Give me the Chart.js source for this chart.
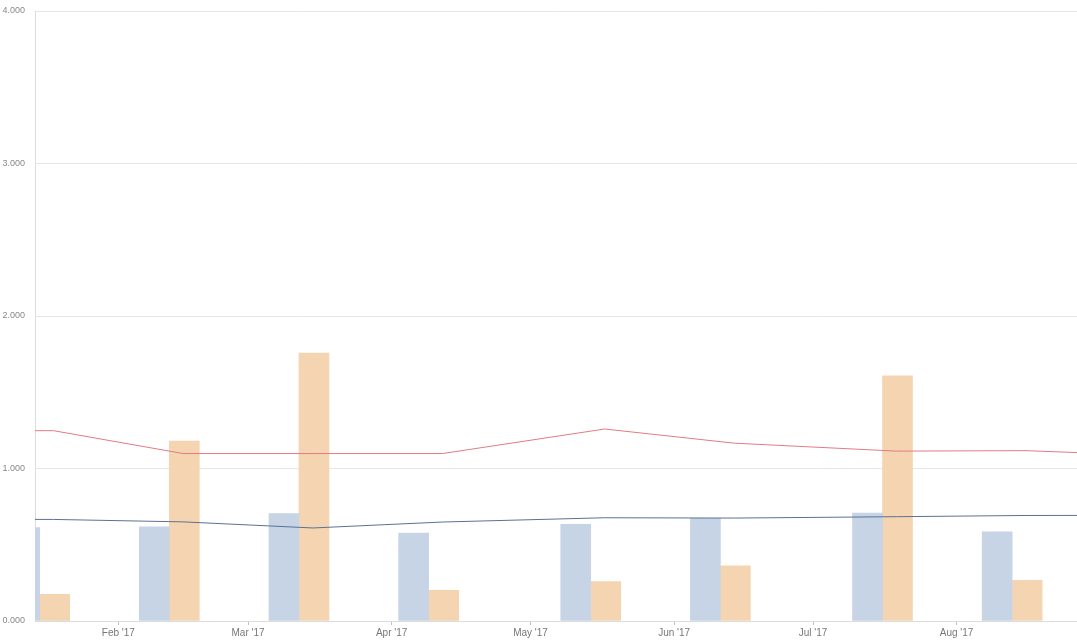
<!DOCTYPE html>
<html>
<head>
<meta charset="utf-8">
<script src="https://cdn.jsdelivr.net/npm/chart.js@4/dist/chart.umd.min.js"></script>
<style>
  html, body { margin: 0; padding: 0; background: #fff; }
  #wrap { width: 1077px; height: 644px; position: relative; }
</style>
</head>
<body>
<div id="wrap"><canvas id="combo"></canvas></div>
<script>
// weekly bars (Sundays) and the two trend lines (Wednesdays)
const barDates = ['2017-01-15', '2017-02-12', '2017-03-12', '2017-04-09',
                  '2017-05-14', '2017-06-11', '2017-07-16', '2017-08-13'];
const blueBars = [0.612, 0.618, 0.704, 0.577, 0.634, 0.673, 0.708, 0.584];
const orangeBars = [0.175, 1.180, 1.757, 0.201, 0.258, 0.361, 1.607, 0.267];

const lineDates = ['2016-12-21', '2017-01-18', '2017-02-15', '2017-03-15', '2017-04-12',
                   '2017-05-17', '2017-06-14', '2017-07-19', '2017-08-16', '2017-09-13'];
const redLine = [1.248, 1.248, 1.098, 1.098, 1.098, 1.259, 1.166, 1.114, 1.117, 1.085];
const navyLine = [0.667, 0.666, 0.650, 0.610, 0.649, 0.677, 0.675, 0.684, 0.692, 0.693];

const monthTicks = ['2017-02-01', '2017-03-01', '2017-04-01', '2017-05-01',
                    '2017-06-01', '2017-07-01', '2017-08-01'];
const monthLabels = ["Feb '17", "Mar '17", "Apr '17", "May '17", "Jun '17", "Jul '17", "Aug '17"];

const rangeStart = '2017-01-14';
const rangeEnd = '2017-08-27';

// days since 1 Jan 2017 (no date adapter available, so a linear axis is used)
function day(s) {
  const p = s.split('-').map(Number);
  return (Date.UTC(p[0], p[1] - 1, p[2]) - Date.UTC(2017, 0, 1)) / 86400000;
}
function pairs(dates, vals) {
  return dates.map((d, i) => ({ x: day(d), y: vals[i] }));
}

const tickDays = monthTicks.map(day);

new Chart(document.getElementById('combo'), {
  type: 'bar',
  data: {
    datasets: [
      { type: 'line', data: pairs(lineDates, redLine), borderColor: '#e27b85', borderWidth: 1,
        pointRadius: 0, tension: 0, order: 0 },
      { type: 'line', data: pairs(lineDates, navyLine), borderColor: '#5b7194', borderWidth: 1,
        pointRadius: 0, tension: 0, order: 0 },
      { data: pairs(barDates, blueBars), backgroundColor: '#c6d4e6', borderWidth: 0,
        barThickness: 30, order: 1 },
      { data: pairs(barDates, orangeBars), backgroundColor: '#f5d5b1', borderWidth: 0,
        barThickness: 30, order: 1 }
    ]
  },
  options: {
    responsive: true,
    maintainAspectRatio: false,
    animation: false,
    layout: { padding: { top: 11, right: 0, left: 0, bottom: 0 } },
    plugins: { legend: { display: false }, tooltip: { enabled: false } },
    scales: {
      x: {
        type: 'linear',
        offset: false,
        min: day(rangeStart),
        max: day(rangeEnd),
        afterBuildTicks: s => { s.ticks = tickDays.map(v => ({ value: v })); },
        afterFit: s => { s.height = 23; s.paddingLeft = 0; s.paddingRight = 0; },
        grid: { offset: false, drawOnChartArea: false, drawTicks: true, tickLength: 4, tickColor: '#b8c2cc' },
        border: { color: '#dcdcdc' },
        ticks: {
          autoSkip: false,
          maxRotation: 0,
          padding: 2,
          color: '#777',
          font: { family: 'Liberation Sans', size: 10 },
          callback: (v) => {
            const i = tickDays.indexOf(v);
            return i >= 0 ? monthLabels[i] : '';
          }
        }
      },
      y: {
        min: 0,
        max: 4,
        afterFit: s => { s.width = 35; s.paddingTop = 0; s.paddingBottom = 0; },
        grid: { color: '#e6e6e6', drawTicks: false },
        border: { color: '#dcdcdc' },
        ticks: {
          stepSize: 1,
          padding: 10,
          color: '#888',
          font: { family: 'Liberation Sans', size: 9 },
          callback: v => v.toFixed(3)
        }
      }
    }
  }
});
</script>
</body>
</html>
